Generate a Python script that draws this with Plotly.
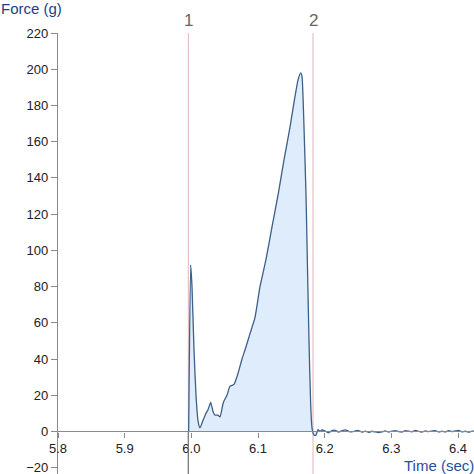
import plotly.graph_objects as go

# Force trace (time in sec, force in g)
time_main = [5.996, 5.999, 6.001, 6.004, 6.007, 6.010, 6.013, 6.0175, 6.022, 6.025,
             6.029, 6.0325, 6.0355, 6.040, 6.043, 6.048, 6.0535, 6.058, 6.064, 6.070,
             6.076, 6.0805, 6.088, 6.0955, 6.103, 6.112, 6.121, 6.1305, 6.139, 6.148,
             6.1555, 6.160, 6.164, 6.166, 6.1675, 6.169, 6.172, 6.174, 6.1765, 6.179,
             6.181, 6.184, 6.187, 6.190, 6.193]
force_main = [0, 92, 80, 45, 20, 6, 2, 6, 10, 12,
              16, 11, 9, 9, 8, 16, 20, 25, 26, 32,
              40, 45, 54, 63, 80, 95, 113, 131.5, 150, 168,
              185, 194, 198, 196, 185, 168, 131, 95, 50, 15,
              2, -2, -2, 1, 0]
time_tail = [6.196 + 0.005 * i for i in range(47)]
force_tail = [0.8, 0.2, -0.8, 0.5, 0.6, -0.3, 0.4, 0.9, 0.1, -0.2, 0.3, 0.5, -0.4, 0.2,
              -0.5, 0.1, -0.3, -0.6, -0.2, 0.3, -0.4, 0.2, 0.5, -0.1, -0.3, 0.4, 0.1,
              -0.2, 0.6, 0.0, -0.4, 0.3, -0.1, 0.2, 0.5, -0.3, 0.1, -0.2, 0.4, -0.1,
              0.3, 0.6, -0.2, 0.1, -0.4, 0.2, 0.0]
time = time_main + time_tail
force = force_main + force_tail

marker_times = [5.9955, 6.1825]
marker_labels = ["1", "2"]
x_ticks = [5.8, 5.9, 6.0, 6.1, 6.2, 6.3, 6.4]
x_tick_text = ["5.8", "5.9", "6.0", "6.1", "6.2", "6.3", "6.4"]
y_ticks = [-20, 0, 20, 40, 60, 80, 100, 120, 140, 160, 180, 200, 220]

Y_MIN, Y_MAX = -23.5, 220
X_MIN, X_MAX = 5.8, 6.424

fig = go.Figure()
fig.add_trace(go.Scatter(
    x=time, y=force, mode="lines",
    line=dict(color="#3e5f86", width=1.3, shape="spline", smoothing=0.5),
    fill="tozeroy", fillcolor="rgba(218,234,251,0.9)",
    hoverinfo="skip", showlegend=False,
))

shapes = []
for t in marker_times:
    shapes.append(dict(type="line", xref="x", yref="y", x0=t, x1=t, y0=Y_MIN, y1=Y_MAX,
                       line=dict(color="#dcb6bf", width=1), layer="below"))
shapes.append(dict(type="line", xref="x", yref="y", x0=marker_times[0], x1=marker_times[0],
                   y0=Y_MIN, y1=0, line=dict(color="#777777", width=1.2)))

annotations = []
for t, lab in zip(marker_times, marker_labels):
    annotations.append(dict(x=t, y=1, xref="x", yref="paper", text=lab, showarrow=False,
                            yanchor="bottom", yshift=1,
                            font=dict(family="Liberation Sans, Arial", size=17, color="#666666")))
annotations.append(dict(x=-0.142, y=1, xref="paper", yref="paper", text="Force (g)",
                        showarrow=False, xanchor="left", yanchor="bottom", yshift=14,
                        font=dict(family="Liberation Sans, Arial", size=15, color="#1f3d86")))
annotations.append(dict(x=1.004, y=-18.7, xref="paper", yref="y", text="Time (sec)",
                        showarrow=False, xanchor="right", yanchor="middle",
                        font=dict(family="Liberation Sans, Arial", size=15, color="#2a4d9c")))

fig.update_layout(
    width=474, height=474,
    margin=dict(l=58, r=0, t=33, b=0),
    paper_bgcolor="white", plot_bgcolor="white",
    shapes=shapes, annotations=annotations,
    font=dict(family="Liberation Sans, Arial", size=13, color="#222222"),
    xaxis=dict(range=[X_MIN, X_MAX], tickvals=x_ticks, ticktext=x_tick_text,
               showgrid=False, zeroline=False, showline=True, linecolor="#8a8a8a",
               linewidth=1.3, ticks="outside", ticklen=5, tickcolor="#8a8a8a",
               anchor="free", position=(0 - Y_MIN) / (Y_MAX - Y_MIN)),
    yaxis=dict(range=[Y_MIN, Y_MAX], tickvals=y_ticks, showgrid=False, zeroline=False,
               showline=True, linecolor="#8a8a8a", linewidth=1.3, ticks="outside",
               ticklen=6, tickcolor="#8a8a8a", ticklabeloverflow="allow"),
)

fig.write_html("out.html", config={"displayModeBar": False},
               post_script="document.body.style.margin='0';document.body.style.overflow='hidden';")
